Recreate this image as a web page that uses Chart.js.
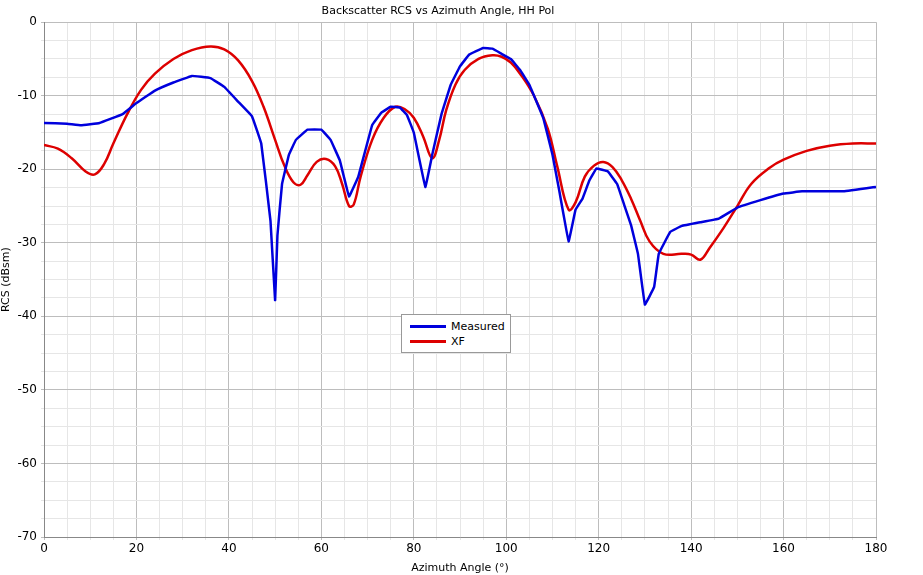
<!DOCTYPE html>
<html>
<head>
<meta charset="utf-8">
<script src="https://cdn.jsdelivr.net/npm/chart.js@4"></script>
<style>
  body { margin: 0; background: #fff; font-family: "DejaVu Sans", sans-serif; }
  #wrap { position: relative; width: 923px; height: 575px; }
  #legend { position: absolute; left: 401px; top: 314px; width: 108px; height: 37px;
    border: 1px solid #999; background: #fff; font-size: 11px; color: #000; }
  #legend div { display: flex; align-items: center; height: 15px; margin-left: 8px; }
  #legend div:first-child { margin-top: 4px; }
  #legend span.sw { display: inline-block; width: 36px; height: 3px; margin-right: 5px; }
</style>
</head>
<body>
<div id="wrap">
  <canvas id="c" width="923" height="575"></canvas>
  <div id="legend">
    <div><span class="sw" style="background:#0000dd"></span>Measured</div>
    <div><span class="sw" style="background:#dd0000"></span>XF</div>
  </div>
</div>
<script>
// Measured (blue)
const measAngle = [0,5,8,12,17,20,24,28,32,36,39,42,45,47,49,50,50.5,51.5,53,54.5,57,60,62,64,66,68,71,73,75,77,78.5,80,82.5,84,86,88,90,92,95,97,99,101,103,105,108,110,111.5,113.5,115,116.5,118,119.5,122,124,125.5,127,128.5,130,132,133,135.5,138,142,146,150,155,160,164,173,180];
const measRcs = [-13.7,-13.8,-14,-13.7,-12.5,-11,-9.3,-8.2,-7.3,-7.6,-8.8,-10.8,-12.8,-16.5,-27,-37.8,-29,-22,-18,-16,-14.6,-14.6,-16,-18.8,-23.7,-21,-14,-12.3,-11.5,-11.6,-12.6,-15,-22.4,-18,-12.5,-8.5,-6,-4.4,-3.5,-3.6,-4.3,-5,-6.5,-8.5,-13,-18,-23,-29.8,-25.5,-24,-21.5,-19.9,-20.3,-22,-24.8,-27.6,-31.5,-38.4,-36,-31.5,-28.5,-27.7,-27.2,-26.7,-25.2,-24.2,-23.3,-23,-23,-22.4];
// XF (red)
const xfAngle = [0,3,6,9,11,13,15,18,21,24,28,32,36,39,42,45,47.5,50,52,54,55.5,57,59,61,63,64.5,66,67,68.5,71,73.5,76,78,80,82,84,85.5,87,89,91,94,97,99,101,103,106,109,111,113.5,115,117,119,121,123,125,127,129,131,134,138,140,142,144,147,150,153,157,160,165,170,175,180];
const xfRcs = [-16.7,-17.2,-18.5,-20.3,-20.7,-19.3,-16.5,-12.5,-9.2,-7,-5,-3.8,-3.3,-3.7,-5.2,-8,-11.5,-16,-19.5,-21.8,-22.1,-20.8,-19,-18.6,-19.6,-22,-25,-24.8,-21,-16,-13,-11.5,-11.8,-13,-15.5,-18.5,-16,-12,-8.5,-6.5,-5,-4.5,-4.7,-5.5,-7,-10,-14.5,-19.5,-25.5,-24.5,-21,-19.5,-19,-19.7,-21.5,-24,-27,-29.8,-31.5,-31.5,-31.6,-32.3,-30.7,-28,-25,-22,-19.8,-18.7,-17.5,-16.8,-16.5,-16.5];

const pts = (xs, ys) => xs.map((x, i) => ({ x, y: ys[i] }));
const font = { family: '"DejaVu Sans", sans-serif', size: 12 };

new Chart(document.getElementById('c'), {
  type: 'line',
  data: {
    datasets: [
      { label: 'Measured', data: pts(measAngle, measRcs), borderColor: '#0000dd', borderWidth: 2.5, pointRadius: 0, tension: 0.05 },
      { label: 'XF', data: pts(xfAngle, xfRcs), borderColor: '#dd0000', borderWidth: 2.5, pointRadius: 0, tension: 0.4 }
    ]
  },
  options: {
    responsive: false,
    animation: false,
    layout: { padding: { left: 0, right: 47, top: 0, bottom: 0 } },
    plugins: {
      legend: { display: false },
      tooltip: { enabled: false },
      title: { display: true, text: 'Backscatter RCS vs Azimuth Angle, HH Pol', color: '#000',
        font: { ...font, size: 11, weight: 'normal' }, padding: { top: 5, bottom: 4 } }
    },
    scales: {
      x: {
        type: 'linear', min: 0, max: 180,
        afterFit: s => { s.height = 38; },
        ticks: { stepSize: 5, autoSkip: false, maxRotation: 0, color: '#000', font, padding: 2,
          callback: v => v % 20 === 0 ? v : '' },
        grid: { color: c => c.tick && c.tick.value % 20 === 0 ? '#bdbdbd' : '#e6e6e6', tickLength: 3 },
        border: { color: '#888' },
        title: { display: true, text: 'Azimuth Angle (°)', color: '#000', font: { ...font, size: 11 }, padding: 0 }
      },
      y: {
        min: -70, max: 0,
        afterFit: s => { s.width = 44; },
        ticks: { stepSize: 2.5, autoSkip: false, color: '#000', font, padding: 4,
          callback: v => v % 10 === 0 ? v : '' },
        grid: { color: c => c.tick && c.tick.value % 10 === 0 ? '#bdbdbd' : '#e6e6e6', tickLength: 3 },
        border: { color: '#888' },
        title: { display: true, text: 'RCS (dBsm)', color: '#000', font: { ...font, size: 11 }, padding: 0 }
      }
    }
  }
});
</script>
</body>
</html>
